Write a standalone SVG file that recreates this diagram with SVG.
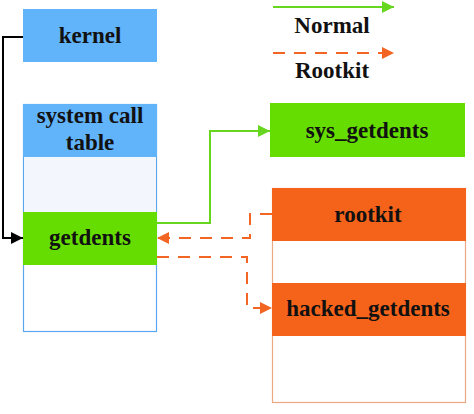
<svg xmlns="http://www.w3.org/2000/svg" width="474" height="414" viewBox="0 0 474 414">
<style>
text{font-family:"Liberation Serif","Times New Roman",serif;font-weight:bold;font-size:23px;fill:#111;text-anchor:middle}
.g{stroke:#66d61e;stroke-width:2;fill:none}
.o{stroke:#f26522;stroke-width:2;fill:none;stroke-dasharray:12 9}
.k{stroke:#000;stroke-width:2;fill:none}
</style>
<defs>
<marker id="ag" viewBox="0 0 10 10" refX="10" refY="5" markerWidth="7" markerHeight="6" markerUnits="strokeWidth" orient="auto"><path d="M0,0L10,5L0,10z" fill="#66d61e"/></marker>
<marker id="ao" viewBox="0 0 10 10" refX="10" refY="5" markerWidth="7" markerHeight="6" markerUnits="strokeWidth" orient="auto"><path d="M0,0L10,5L0,10z" fill="#f26522"/></marker>
<marker id="ak" viewBox="0 0 10 10" refX="10" refY="5" markerWidth="6" markerHeight="6" markerUnits="strokeWidth" orient="auto"><path d="M0,0L10,5L0,10z" fill="#000"/></marker>
</defs>
<rect width="474" height="414" fill="#fff"/>
<g id="legend">
<line class="g" x1="273" y1="7" x2="394" y2="7" marker-end="url(#ag)"/>
<text x="332" y="33">Normal</text>
<line class="o" x1="273" y1="53" x2="394" y2="53" marker-end="url(#ao)"/>
<text x="332" y="78">Rootkit</text>
</g>
<g id="kernel">
<rect x="23" y="9" width="134" height="53" fill="#61b3fa"/>
<text x="90" y="43">kernel</text>
</g>
<g id="syscall-table">
<rect x="23.5" y="104.5" width="133" height="227" fill="#fff" stroke="#5aa7ee" stroke-width="1.2"/>
<rect x="23" y="104" width="134" height="53" fill="#61b3fa"/>
<rect x="24" y="157" width="132" height="55" fill="#f3f6fc"/>
<text x="90" y="123">system call</text>
<text x="90" y="150">table</text>
</g>
<g id="getdents">
<rect x="23" y="212" width="134" height="53" fill="#66dd00"/>
<text x="90" y="245">getdents</text>
</g>
<g id="sys_getdents">
<rect x="270" y="103" width="195" height="54" fill="#66dd00"/>
<text x="367" y="138">sys_getdents</text>
</g>
<g id="rootkit-module">
<rect x="272.5" y="188.5" width="193" height="214" fill="#fff" stroke="#eba882" stroke-width="1.2"/>
<rect x="272" y="188" width="194" height="53" fill="#f5631a"/>
<text x="368" y="222">rootkit</text>
</g>
<g id="hacked_getdents">
<rect x="272" y="283" width="194" height="53" fill="#f5631a"/>
<text x="368" y="316">hacked_getdents</text>
</g>
<g id="connectors">
<polyline class="k" points="23,37 3,37 3,238 23,238" marker-end="url(#ak)"/>
<polyline class="g" points="157,223 210,223 210,131 270,131" marker-end="url(#ag)"/>
<polyline class="o" points="272,214 250,214 250,238 157,238" marker-end="url(#ao)"/>
<polyline class="o" points="157,257 247,257 247,308 272,308" marker-end="url(#ao)"/>
</g>
</svg>
